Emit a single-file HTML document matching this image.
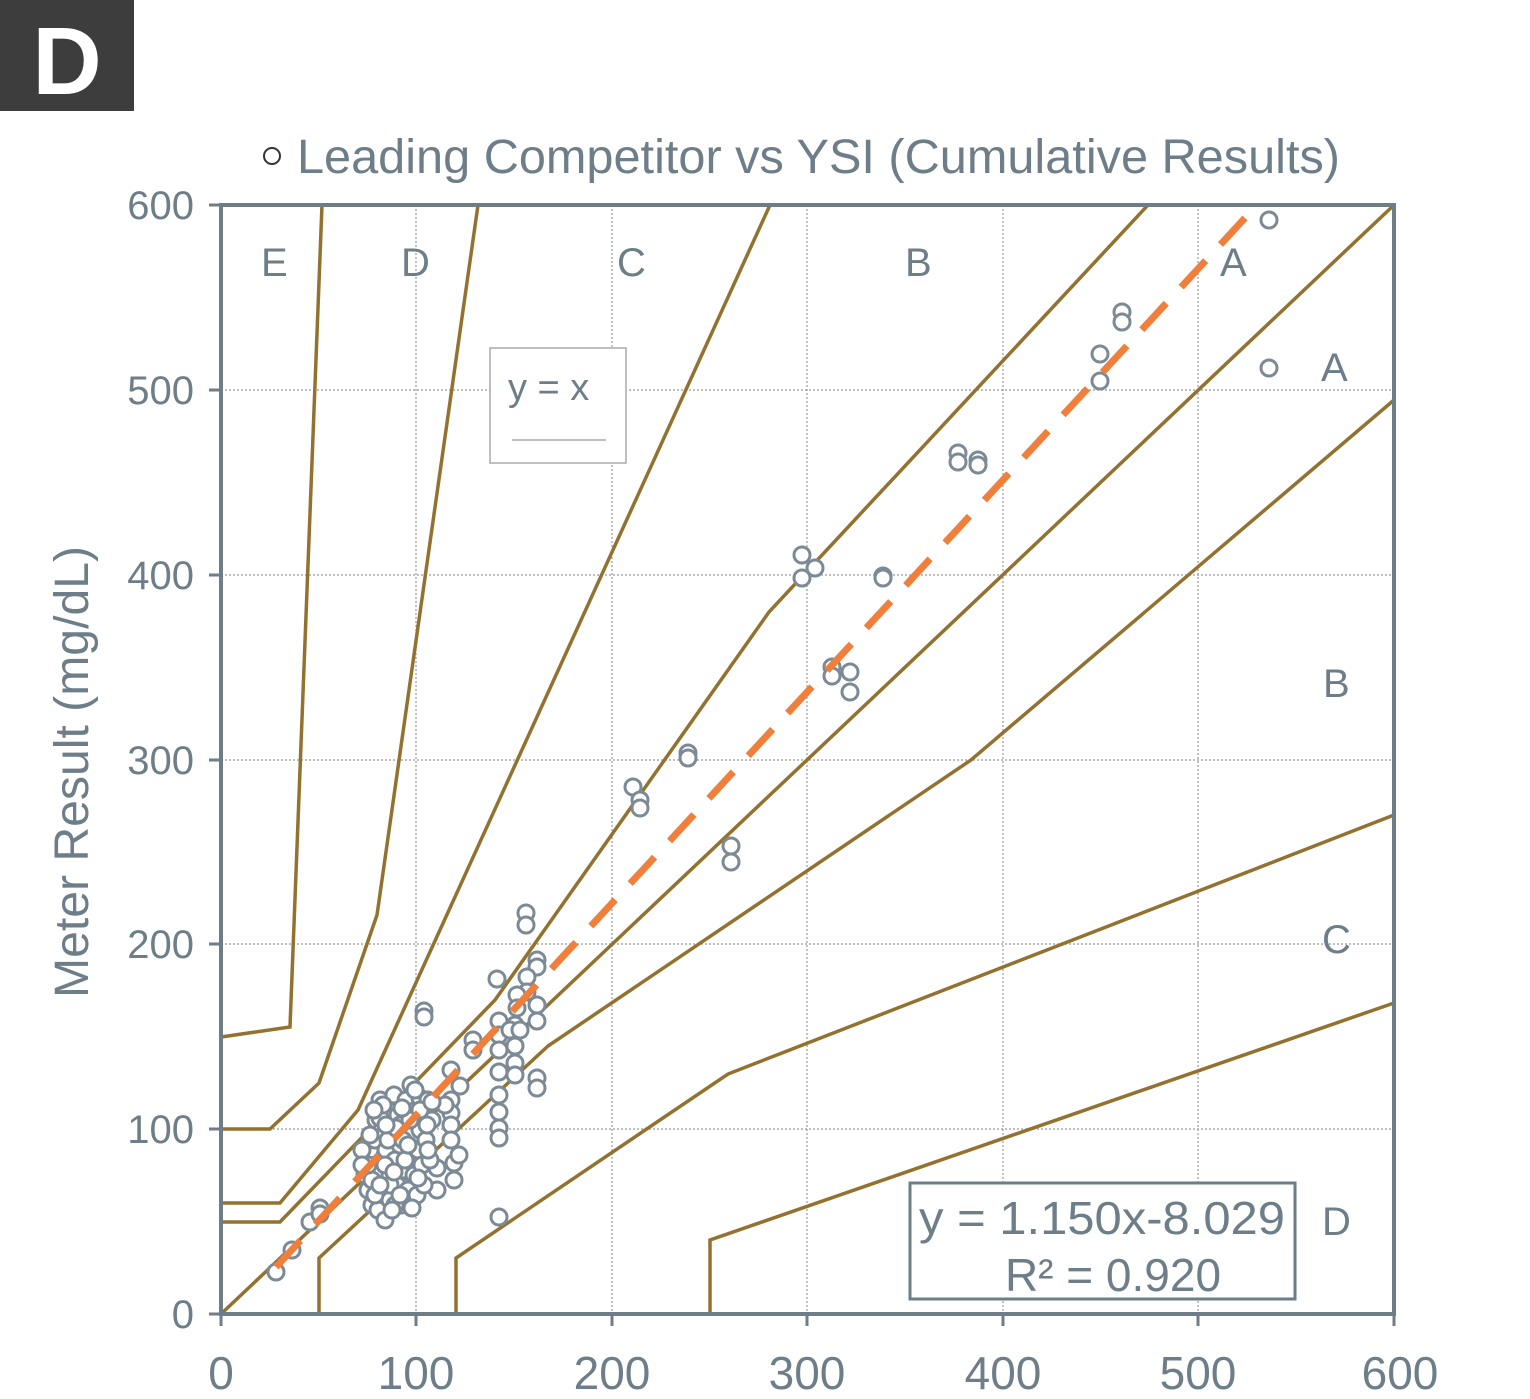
<!DOCTYPE html>
<html><head><meta charset="utf-8"><style>
html,body{margin:0;padding:0;background:#fff;}
svg{display:block;}
text{font-family:"Liberation Sans",sans-serif;fill:#6e7e89;}
</style></head><body>
<svg width="1530" height="1399" viewBox="0 0 1530 1399" xmlns="http://www.w3.org/2000/svg">
<rect x="0" y="0" width="134" height="111" fill="#3d3d3d"/>
<text x="67" y="94" text-anchor="middle" font-size="96" font-weight="bold" style="fill:#fff">D</text>
<circle cx="272" cy="156" r="8" fill="none" stroke="#333" stroke-width="2"/>
<text x="297" y="173" font-size="48" textLength="1043" lengthAdjust="spacingAndGlyphs">Leading Competitor vs YSI (Cumulative Results)</text>
<g stroke="#999" stroke-width="1.2" stroke-dasharray="2,2">
<line x1="416" y1="205" x2="416" y2="1314"/><line x1="612" y1="205" x2="612" y2="1314"/><line x1="807" y1="205" x2="807" y2="1314"/><line x1="1003" y1="205" x2="1003" y2="1314"/><line x1="1198" y1="205" x2="1198" y2="1314"/>
<line x1="221" y1="390" x2="1394" y2="390"/><line x1="221" y1="575" x2="1394" y2="575"/><line x1="221" y1="760" x2="1394" y2="760"/><line x1="221" y1="944" x2="1394" y2="944"/><line x1="221" y1="1129" x2="1394" y2="1129"/>
</g>
<g fill="none" stroke="#93712f" stroke-width="3.5">
<polyline points="221,1037 290,1027 322,205"/>
<polyline points="221,1129 270,1129 319,1083 377,915 478,205"/>
<polyline points="221,1203 280,1203 358,1110 770,205"/>
<polyline points="221,1222 280,1222 495,1000 769,612 1148,205"/>
<line x1="221" y1="1314" x2="1394" y2="205"/>
<polyline points="319,1314 319,1258 548,1046 971,760 1394,400"/>
<polyline points="456,1314 456,1258 728,1074 1394,815"/>
<polyline points="710,1314 710,1240 1394,1003"/>
</g>
<rect x="490" y="348" width="136" height="115" fill="#fff" stroke="#aaa" stroke-width="1.5"/>
<text x="508" y="400" font-size="38">y = x</text>
<line x1="512" y1="440" x2="606" y2="440" stroke="#aaa" stroke-width="1.5"/>
<g font-size="40">
<text x="261" y="276">E</text><text x="401" y="276">D</text><text x="617" y="276">C</text><text x="905" y="276">B</text><text x="1220" y="276">A</text>
<text x="1321" y="381">A</text><text x="1323" y="697">B</text><text x="1322" y="953">C</text><text x="1322" y="1235">D</text>
</g>
<g fill="#fff" stroke="#7b8a95" stroke-width="3">
<circle cx="1269" cy="220" r="8"/><circle cx="1122" cy="312" r="8"/><circle cx="1122" cy="322" r="8"/><circle cx="1100" cy="354" r="8"/><circle cx="1100" cy="381" r="8"/><circle cx="1269" cy="368" r="8"/><circle cx="958" cy="453" r="8"/><circle cx="958" cy="462" r="8"/><circle cx="978" cy="460" r="8"/><circle cx="978" cy="465" r="8"/><circle cx="802" cy="555" r="8"/><circle cx="802" cy="578" r="8"/><circle cx="815" cy="568" r="8"/><circle cx="883" cy="576" r="8"/><circle cx="883" cy="578" r="8"/><circle cx="832" cy="667" r="8"/><circle cx="832" cy="676" r="8"/><circle cx="850" cy="672" r="8"/><circle cx="850" cy="692" r="8"/><circle cx="688" cy="753" r="8"/><circle cx="688" cy="758" r="8"/><circle cx="633" cy="787" r="8"/><circle cx="640" cy="800" r="8"/><circle cx="640" cy="808" r="8"/><circle cx="731" cy="846" r="8"/><circle cx="731" cy="862" r="8"/><circle cx="526" cy="913" r="8"/><circle cx="526" cy="925" r="8"/><circle cx="424" cy="1011" r="8"/><circle cx="424" cy="1017" r="8"/><circle cx="497" cy="979" r="8"/><circle cx="537" cy="960" r="8"/><circle cx="537" cy="967" r="8"/><circle cx="527" cy="977" r="8"/><circle cx="527" cy="992" r="8"/><circle cx="517" cy="995" r="8"/><circle cx="517" cy="1008" r="8"/><circle cx="515" cy="1025" r="8"/><circle cx="499" cy="1021" r="8"/><circle cx="499" cy="1035" r="8"/><circle cx="537" cy="1005" r="8"/><circle cx="537" cy="1021" r="8"/><circle cx="499" cy="1050" r="8"/><circle cx="499" cy="1072" r="8"/><circle cx="499" cy="1095" r="8"/><circle cx="499" cy="1112" r="8"/><circle cx="499" cy="1128" r="8"/><circle cx="499" cy="1138" r="8"/><circle cx="499" cy="1217" r="8"/><circle cx="537" cy="1078" r="8"/><circle cx="537" cy="1088" r="8"/><circle cx="515" cy="1046" r="8"/><circle cx="515" cy="1063" r="8"/><circle cx="515" cy="1075" r="8"/><circle cx="510" cy="1030" r="8"/><circle cx="520" cy="1030" r="8"/><circle cx="473" cy="1040" r="8"/><circle cx="473" cy="1050" r="8"/><circle cx="460" cy="1086" r="8"/><circle cx="451" cy="1070" r="8"/><circle cx="451" cy="1100" r="8"/><circle cx="451" cy="1113" r="8"/><circle cx="451" cy="1125" r="8"/><circle cx="451" cy="1140" r="8"/><circle cx="454" cy="1163" r="8"/><circle cx="454" cy="1180" r="8"/><circle cx="459" cy="1155" r="8"/><circle cx="437" cy="1168" r="8"/><circle cx="437" cy="1190" r="8"/><circle cx="445" cy="1105" r="8"/><circle cx="276" cy="1272" r="8"/><circle cx="292" cy="1250" r="8"/><circle cx="310" cy="1222" r="8"/><circle cx="320" cy="1208" r="8"/><circle cx="320" cy="1214" r="8"/>
<circle cx="365" cy="1160" r="8"/><circle cx="365" cy="1175" r="8"/><circle cx="368" cy="1190" r="8"/><circle cx="370" cy="1150" r="8"/><circle cx="372" cy="1205" r="8"/><circle cx="375" cy="1140" r="8"/><circle cx="376" cy="1120" r="8"/><circle cx="378" cy="1210" r="8"/><circle cx="378" cy="1170" r="8"/><circle cx="380" cy="1100" r="8"/><circle cx="382" cy="1130" r="8"/><circle cx="384" cy="1190" r="8"/><circle cx="385" cy="1220" r="8"/><circle cx="386" cy="1150" r="8"/><circle cx="388" cy="1110" r="8"/><circle cx="390" cy="1175" r="8"/><circle cx="390" cy="1200" r="8"/><circle cx="392" cy="1135" r="8"/><circle cx="394" cy="1095" r="8"/><circle cx="395" cy="1160" r="8"/><circle cx="397" cy="1185" r="8"/><circle cx="398" cy="1115" r="8"/><circle cx="400" cy="1145" r="8"/><circle cx="401" cy="1205" r="8"/><circle cx="403" cy="1170" r="8"/><circle cx="405" cy="1125" r="8"/><circle cx="406" cy="1100" r="8"/><circle cx="408" cy="1190" r="8"/><circle cx="410" cy="1155" r="8"/><circle cx="411" cy="1085" r="8"/><circle cx="412" cy="1135" r="8"/><circle cx="414" cy="1175" r="8"/><circle cx="416" cy="1110" r="8"/><circle cx="417" cy="1195" r="8"/><circle cx="418" cy="1150" r="8"/><circle cx="420" cy="1098" r="8"/><circle cx="420" cy="1130" r="8"/><circle cx="422" cy="1165" r="8"/><circle cx="424" cy="1185" r="8"/><circle cx="425" cy="1115" r="8"/><circle cx="426" cy="1140" r="8"/><circle cx="428" cy="1100" r="8"/><circle cx="430" cy="1160" r="8"/><circle cx="432" cy="1120" r="8"/><circle cx="380" cy="1118" r="8"/><circle cx="385" cy="1165" r="8"/><circle cx="395" cy="1205" r="8"/><circle cx="400" cy="1125" r="8"/><circle cx="405" cy="1160" r="8"/><circle cx="412" cy="1208" r="8"/><circle cx="418" cy="1178" r="8"/><circle cx="388" cy="1140" r="8"/><circle cx="372" cy="1180" r="8"/><circle cx="375" cy="1195" r="8"/><circle cx="392" cy="1210" r="8"/><circle cx="410" cy="1120" r="8"/><circle cx="427" cy="1125" r="8"/><circle cx="415" cy="1090" r="8"/><circle cx="383" cy="1105" r="8"/><circle cx="403" cy="1140" r="8"/><circle cx="368" cy="1165" r="8"/><circle cx="362" cy="1150" r="8"/><circle cx="362" cy="1165" r="8"/><circle cx="390" cy="1185" r="8"/>
<circle cx="370" cy="1135" r="8"/><circle cx="396" cy="1128" r="8"/><circle cx="408" cy="1145" r="8"/><circle cx="380" cy="1185" r="8"/><circle cx="400" cy="1195" r="8"/><circle cx="420" cy="1110" r="8"/><circle cx="386" cy="1125" r="8"/><circle cx="432" cy="1102" r="8"/><circle cx="402" cy="1108" r="8"/><circle cx="374" cy="1110" r="8"/><circle cx="428" cy="1150" r="8"/><circle cx="394" cy="1172" r="8"/>
</g>
<line x1="276" y1="1267" x2="1257" y2="205" stroke="#f07f3c" stroke-width="7" stroke-dasharray="36,22"/>
<rect x="910" y="1183" width="385" height="116" fill="#fff" stroke="#6e7e89" stroke-width="3"/>
<text x="1102" y="1234" font-size="46" text-anchor="middle" textLength="366" lengthAdjust="spacingAndGlyphs">y = 1.150x-8.029</text>
<text x="1113" y="1291" font-size="46" text-anchor="middle">R² = 0.920</text>
<rect x="221" y="205" width="1173" height="1109" fill="none" stroke="#6e7e89" stroke-width="4"/>
<g stroke="#6e7e89" stroke-width="3">
<line x1="209" y1="205" x2="221" y2="205"/><line x1="209" y1="390" x2="221" y2="390"/><line x1="209" y1="575" x2="221" y2="575"/><line x1="209" y1="760" x2="221" y2="760"/><line x1="209" y1="944" x2="221" y2="944"/><line x1="209" y1="1129" x2="221" y2="1129"/><line x1="209" y1="1314" x2="221" y2="1314"/>
<line x1="221" y1="1314" x2="221" y2="1326"/><line x1="416" y1="1314" x2="416" y2="1326"/><line x1="612" y1="1314" x2="612" y2="1326"/><line x1="807" y1="1314" x2="807" y2="1326"/><line x1="1003" y1="1314" x2="1003" y2="1326"/><line x1="1198" y1="1314" x2="1198" y2="1326"/><line x1="1394" y1="1314" x2="1394" y2="1326"/>
</g>
<g font-size="40" text-anchor="end">
<text x="194" y="219">600</text><text x="194" y="404">500</text><text x="194" y="589">400</text><text x="194" y="774">300</text><text x="194" y="958">200</text><text x="194" y="1143">100</text><text x="194" y="1328">0</text>
</g>
<g font-size="46" text-anchor="middle">
<text x="221" y="1389">0</text><text x="416" y="1389">100</text><text x="612" y="1389">200</text><text x="807" y="1389">300</text><text x="1003" y="1389">400</text><text x="1198" y="1389">500</text><text x="1400" y="1389">600</text>
</g>
<text transform="translate(88,772) rotate(-90)" font-size="48" text-anchor="middle" textLength="452" lengthAdjust="spacingAndGlyphs">Meter Result (mg/dL)</text>
</svg>
</body></html>
